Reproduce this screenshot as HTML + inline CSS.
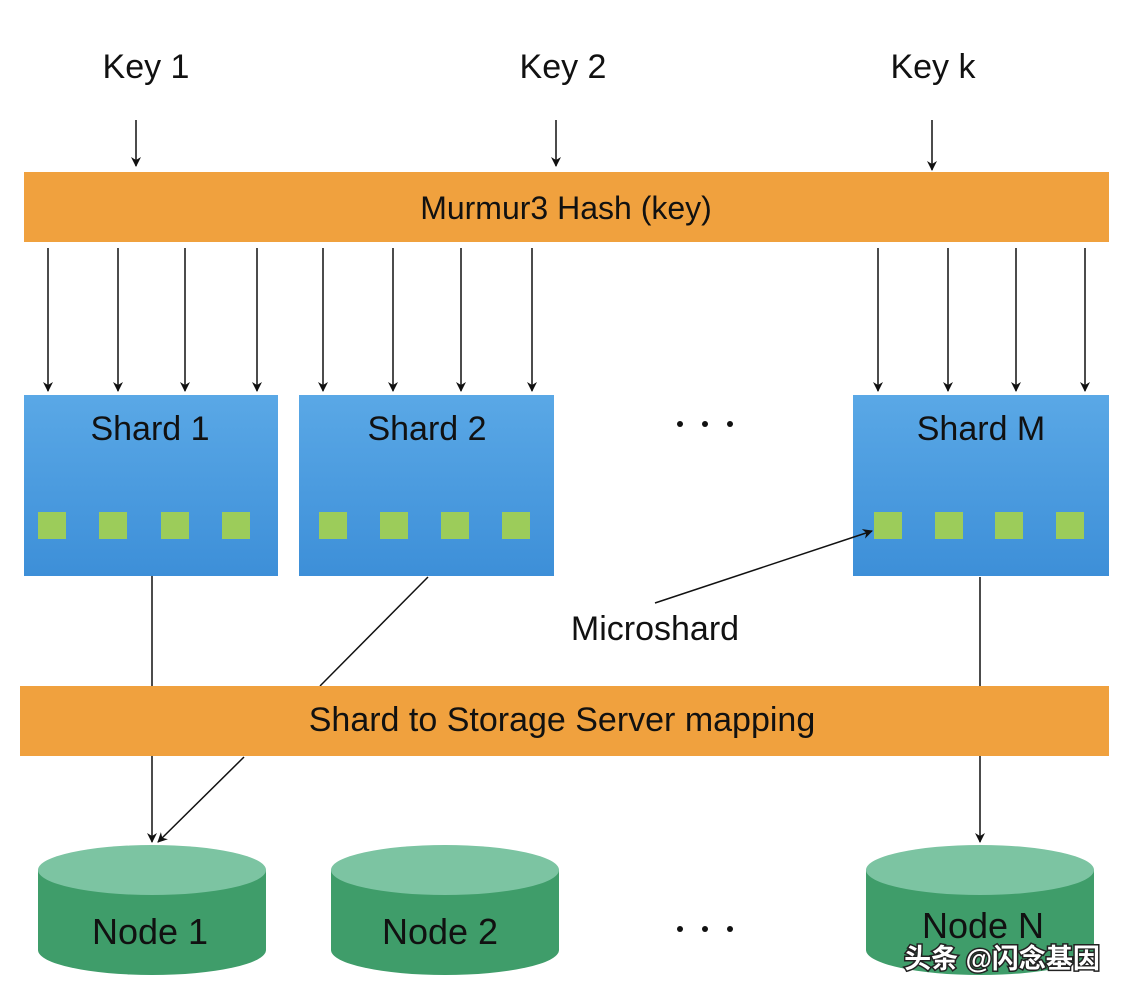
<!DOCTYPE html>
<html><head><meta charset="utf-8"><style>
html,body{margin:0;padding:0;background:#fff;}
svg{display:block;font-family:"Liberation Sans","Noto Sans CJK SC",sans-serif;}
</style></head><body>
<svg width="1132" height="998" viewBox="0 0 1132 998">
<defs>
<marker id="a" markerWidth="10" markerHeight="10" refX="9" refY="5" orient="auto" markerUnits="userSpaceOnUse"><path d="M0,0 L10,5 L0,10 L3,5 z" fill="#111"/></marker>
<linearGradient id="bl" x1="0" y1="0" x2="0" y2="1"><stop offset="0" stop-color="#5aa8e6"/><stop offset="1" stop-color="#3d8fd8"/></linearGradient>
</defs>
<g font-size="34" fill="#111" text-anchor="middle">
<text x="146" y="78">Key 1</text><text x="563" y="78">Key 2</text><text x="933" y="78">Key k</text>
</g>
<g stroke="#111" stroke-width="1.5" marker-end="url(#a)">
<line x1="136" y1="120" x2="136" y2="166"/><line x1="556" y1="120" x2="556" y2="166"/><line x1="932" y1="120" x2="932" y2="170"/>
</g>
<rect x="24" y="172" width="1085" height="70" fill="#f0a13e"/>
<text x="566" y="219" font-size="32" text-anchor="middle" fill="#111">Murmur3 Hash (key)</text>
<g stroke="#111" stroke-width="1.5" marker-end="url(#a)">
<line x1="48" y1="248" x2="48" y2="391"/><line x1="118" y1="248" x2="118" y2="391"/><line x1="185" y1="248" x2="185" y2="391"/><line x1="257" y1="248" x2="257" y2="391"/>
<line x1="323" y1="248" x2="323" y2="391"/><line x1="393" y1="248" x2="393" y2="391"/><line x1="461" y1="248" x2="461" y2="391"/><line x1="532" y1="248" x2="532" y2="391"/>
<line x1="878" y1="248" x2="878" y2="391"/><line x1="948" y1="248" x2="948" y2="391"/><line x1="1016" y1="248" x2="1016" y2="391"/><line x1="1085" y1="248" x2="1085" y2="391"/>
</g>
<rect x="24" y="395" width="254" height="181" fill="url(#bl)"/>
<rect x="299" y="395" width="255" height="181" fill="url(#bl)"/>
<rect x="853" y="395" width="256" height="181" fill="url(#bl)"/>
<g font-size="34" fill="#111" text-anchor="middle">
<text x="150" y="440">Shard 1</text><text x="427" y="440">Shard 2</text><text x="981" y="440">Shard M</text>
</g>
<g fill="#9ccc5a">
<rect x="38" y="512" width="28" height="27"/><rect x="99" y="512" width="28" height="27"/><rect x="161" y="512" width="28" height="27"/><rect x="222" y="512" width="28" height="27"/>
<rect x="319" y="512" width="28" height="27"/><rect x="380" y="512" width="28" height="27"/><rect x="441" y="512" width="28" height="27"/><rect x="502" y="512" width="28" height="27"/>
<rect x="874" y="512" width="28" height="27"/><rect x="935" y="512" width="28" height="27"/><rect x="995" y="512" width="28" height="27"/><rect x="1056" y="512" width="28" height="27"/>
</g>
<g fill="#111"><circle cx="680" cy="424" r="3"/><circle cx="705" cy="424" r="3"/><circle cx="730" cy="424" r="3"/>
<circle cx="680" cy="929" r="3"/><circle cx="705" cy="929" r="3"/><circle cx="730" cy="929" r="3"/></g>
<text x="655" y="640" font-size="34" fill="#111" text-anchor="middle">Microshard</text>
<g stroke="#111" stroke-width="1.5">
<line x1="655" y1="603" x2="872" y2="531" marker-end="url(#a)"/>
<line x1="152" y1="576" x2="152" y2="686"/>
<line x1="428" y1="577" x2="320" y2="686"/>
<line x1="980" y1="577" x2="980" y2="686"/>
<line x1="152" y1="756" x2="152" y2="842" marker-end="url(#a)"/>
<line x1="244" y1="757" x2="158" y2="842" marker-end="url(#a)"/>
<line x1="980" y1="756" x2="980" y2="842" marker-end="url(#a)"/>
</g>
<rect x="20" y="686" width="1089" height="70" fill="#f0a13e"/>
<text x="562" y="731" font-size="34" text-anchor="middle" fill="#111">Shard to Storage Server mapping</text>
<g>
<path d="M38,870 L38,950 A114,25 0 0 0 266,950 L266,870 z" fill="#3f9d6a"/>
<ellipse cx="152" cy="870" rx="114" ry="25" fill="#7cc4a2"/>
<path d="M331,870 L331,950 A114,25 0 0 0 559,950 L559,870 z" fill="#3f9d6a"/>
<ellipse cx="445" cy="870" rx="114" ry="25" fill="#7cc4a2"/>
<path d="M866,870 L866,950 A114,25 0 0 0 1094,950 L1094,870 z" fill="#3f9d6a"/>
<ellipse cx="980" cy="870" rx="114" ry="25" fill="#7cc4a2"/>
</g>
<g font-size="36" fill="#111" text-anchor="middle">
<text x="150" y="944">Node 1</text><text x="440" y="944">Node 2</text><text x="983" y="938">Node N</text>
</g>
<text x="1002" y="968" font-size="27" text-anchor="middle" fill="#fff" stroke="#222" stroke-width="3" paint-order="stroke" font-weight="bold">头条 @闪念基因</text>
</svg>
</body></html>
